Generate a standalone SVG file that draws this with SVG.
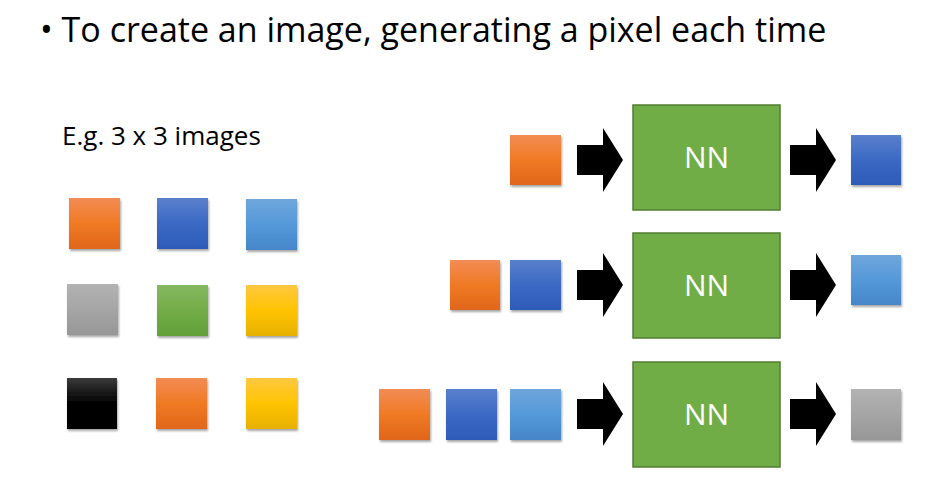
<svg xmlns="http://www.w3.org/2000/svg" width="948" height="483" viewBox="0 0 948 483">
<defs>
<linearGradient id="or" x1="0" y1="0" x2="0" y2="1"><stop offset="0" stop-color="#f28c55"/><stop offset="0.5" stop-color="#f07a24"/><stop offset="1" stop-color="#e0661a"/></linearGradient>
<linearGradient id="bl" x1="0" y1="0" x2="0" y2="1"><stop offset="0" stop-color="#5a80cc"/><stop offset="0.5" stop-color="#3b69c4"/><stop offset="1" stop-color="#2e5bb8"/></linearGradient>
<linearGradient id="lb" x1="0" y1="0" x2="0" y2="1"><stop offset="0" stop-color="#6fa6dc"/><stop offset="0.5" stop-color="#5599d9"/><stop offset="1" stop-color="#4586c8"/></linearGradient>
<linearGradient id="gr" x1="0" y1="0" x2="0" y2="1"><stop offset="0" stop-color="#b3b3b3"/><stop offset="1" stop-color="#979797"/></linearGradient>
<linearGradient id="gn" x1="0" y1="0" x2="0" y2="1"><stop offset="0" stop-color="#86b862"/><stop offset="0.5" stop-color="#72ad47"/><stop offset="1" stop-color="#62a038"/></linearGradient>
<linearGradient id="ye" x1="0" y1="0" x2="0" y2="1"><stop offset="0" stop-color="#ffc840"/><stop offset="0.5" stop-color="#ffc300"/><stop offset="1" stop-color="#e6b000"/></linearGradient>
<linearGradient id="bk" x1="0" y1="0" x2="0" y2="1"><stop offset="0" stop-color="#3a3a3a"/><stop offset="0.5" stop-color="#000"/><stop offset="1" stop-color="#000"/></linearGradient>
<filter id="sh" x="-10%" y="-10%" width="130%" height="130%"><feDropShadow dx="1" dy="2" stdDeviation="1.2" flood-color="#000" flood-opacity="0.35"/></filter>
<path id="arr" d="M0,17 H26 V0 L46,32 L26,64 V47 H0 Z" fill="#000"/>
</defs>
<style>
text{font-family:"Open Sans","Liberation Sans",sans-serif;}
.sq{filter:url(#sh);}
.nn{fill:#70ad47;stroke:#507e32;stroke-width:1.5;}
.nt{fill:#fff;font-size:30px;text-anchor:middle;}
</style>
<text x="40" y="42" font-size="34" fill="#000">• To create an image, generating a pixel each time</text>
<text x="62" y="145" font-size="26" fill="#000">E.g. 3 x 3 images</text>
<g id="grid">
<rect class="sq" x="69" y="198" width="51" height="51" fill="url(#or)"/>
<rect class="sq" x="157" y="198" width="51" height="51" fill="url(#bl)"/>
<rect class="sq" x="246" y="199" width="51" height="51" fill="url(#lb)"/>
<rect class="sq" x="67" y="284" width="51" height="51" fill="url(#gr)"/>
<rect class="sq" x="157" y="285" width="51" height="51" fill="url(#gn)"/>
<rect class="sq" x="246" y="285" width="51" height="51" fill="url(#ye)"/>
<rect class="sq" x="67" y="378" width="50" height="51" fill="url(#bk)"/>
<rect class="sq" x="156" y="378" width="51" height="51" fill="url(#or)"/>
<rect class="sq" x="246" y="378" width="51" height="51" fill="url(#ye)"/>
</g>
<g id="nn1"><rect class="nn" x="633" y="105" width="147" height="105"/><text class="nt" x="706.5" y="168">NN</text></g>
<g id="nn2"><rect class="nn" x="633" y="233" width="147" height="105"/><text class="nt" x="706.5" y="296">NN</text></g>
<g id="nn3"><rect class="nn" x="633" y="362" width="147" height="105"/><text class="nt" x="706.5" y="425">NN</text></g>
<g id="inputs">
<rect class="sq" x="510" y="135" width="51" height="50" fill="url(#or)"/>
<rect class="sq" x="450" y="260" width="50" height="50" fill="url(#or)"/>
<rect class="sq" x="510" y="260" width="51" height="50" fill="url(#bl)"/>
<rect class="sq" x="379" y="389" width="51" height="51" fill="url(#or)"/>
<rect class="sq" x="446" y="389" width="51" height="51" fill="url(#bl)"/>
<rect class="sq" x="510" y="389" width="51" height="51" fill="url(#lb)"/>
</g>
<g id="outputs">
<rect class="sq" x="851" y="135" width="50" height="50" fill="url(#bl)"/>
<rect class="sq" x="851" y="255" width="50" height="50" fill="url(#lb)"/>
<rect class="sq" x="851" y="389" width="50" height="51" fill="url(#gr)"/>
</g>
<g id="connectors">
<use href="#arr" x="577" y="128"/>
<use href="#arr" x="790" y="128"/>
<use href="#arr" x="577" y="253"/>
<use href="#arr" x="790" y="253"/>
<use href="#arr" x="577" y="382"/>
<use href="#arr" x="790" y="382"/>
</g>
</svg>
